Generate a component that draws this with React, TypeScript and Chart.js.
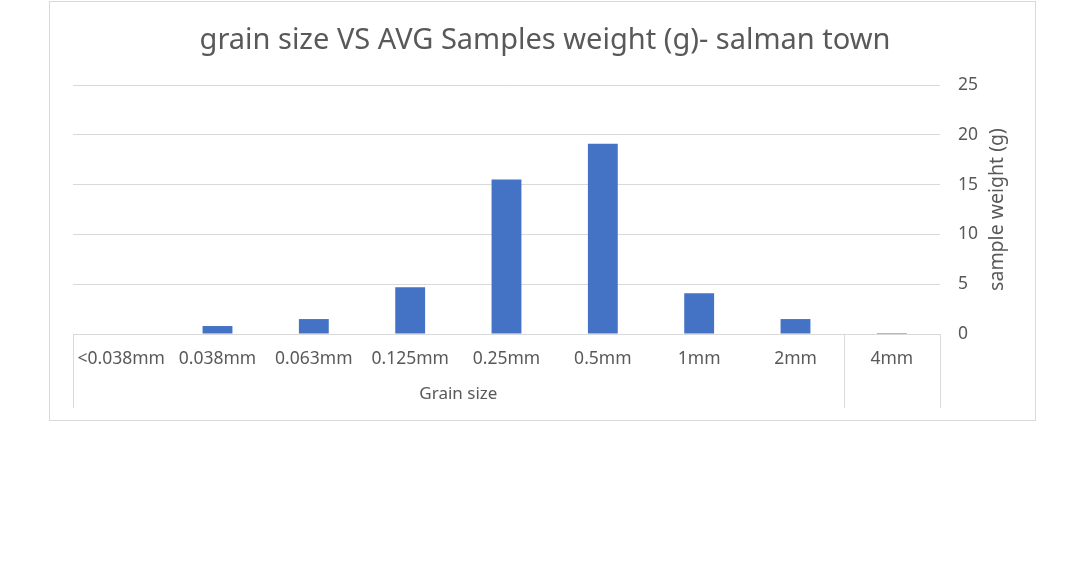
import React, { useEffect, useRef } from "react";
import { Chart, registerables } from "chart.js";

Chart.register(...registerables);

const categories = ["<0.038mm", "0.038mm", "0.063mm", "0.125mm", "0.25mm", "0.5mm", "1mm", "2mm", "4mm"];
const weights = [0, 0.8, 1.5, 4.7, 15.5, 19.1, 4.1, 1.5, 0.1];
const groupLabel = "Grain size";
const groupSpan = 8; // first 8 categories belong to the "Grain size" group
const yMin = 0;
const yMax = 25;
const yStep = 5;
const titleText = "grain size VS AVG Samples weight (g)- salman town";
const yTitle = "sample weight (g)";

const FONT = "'Noto Sans', sans-serif";
const TEXT = "#595959";
const LINE = "#d9d9d9";
const BAR = "#4472C4";

const decorPlugin = {
  id: "decor",
  beforeDraw(chart: any) {
    const { ctx, width, height } = chart;
    ctx.save();
    ctx.fillStyle = "#ffffff";
    ctx.fillRect(0, 0, width, height);
    ctx.strokeStyle = LINE;
    ctx.lineWidth = 1;
    ctx.strokeRect(49.5, 1.5, 986, 419);
    ctx.restore();
  },
  afterDraw(chart: any) {
    const { ctx, chartArea } = chart;
    const x = chart.scales.x;
    const half = (x.getPixelForValue(1) - x.getPixelForValue(0)) / 2;
    const left = chartArea.left;
    const right = chartArea.right;
    const boundary = x.getPixelForValue(groupSpan - 1) + half;
    const top = chartArea.bottom;
    const bottom = top + 74;
    ctx.save();
    ctx.strokeStyle = LINE;
    ctx.lineWidth = 1;
    for (const px of [left, boundary, right]) {
      const xx = Math.round(px) + 0.5;
      ctx.beginPath();
      ctx.moveTo(xx, top);
      ctx.lineTo(xx, bottom);
      ctx.stroke();
    }
    ctx.fillStyle = TEXT;
    ctx.font = `17px ${FONT}`;
    ctx.textAlign = "center";
    ctx.textBaseline = "middle";
    ctx.fillText(groupLabel, (left + boundary) / 2, top + 60);

    // right-side axis title, reading bottom to top
    ctx.translate(997, (chartArea.top + chartArea.bottom) / 2);
    ctx.rotate(-Math.PI / 2);
    ctx.font = `19.5px ${FONT}`;
    ctx.fillText(yTitle, 0, 0);
    ctx.restore();
  },
};

export default function App() {
  const ref = useRef<HTMLCanvasElement>(null);
  useEffect(() => {
    if (!ref.current) return;
    const chart = new Chart(ref.current, {
      type: "bar",
      data: {
        labels: categories,
        datasets: [
          {
            data: weights,
            backgroundColor: BAR,
            borderWidth: 0,
            barPercentage: 0.31,
            categoryPercentage: 1,
          },
        ],
      },
      options: {
        animation: false,
        responsive: false,
        devicePixelRatio: 1,
        layout: { padding: { left: 73, right: 63, top: 0, bottom: 172 } },
        plugins: {
          legend: { display: false },
          tooltip: { enabled: false },
          title: {
            display: true,
            text: titleText,
            color: TEXT,
            font: { family: FONT, size: 29, weight: "normal", lineHeight: 1.2 },
            padding: { top: 23, bottom: 27.2 },
          },
        },
        scales: {
          x: {
            grid: { display: false, drawTicks: false },
            border: { display: true, color: LINE },
            ticks: {
              color: TEXT,
              font: { family: FONT, size: 17.5 },
              padding: 15,
              maxRotation: 0,
              autoSkip: false,
            },
            afterFit: (s: any) => {
              s.height = 80;
            },
          },
          y: {
            position: "right",
            min: yMin,
            max: yMax,
            grid: { color: LINE, drawTicks: false },
            border: { display: false },
            ticks: {
              stepSize: yStep,
              color: TEXT,
              font: { family: FONT, size: 17.5 },
              padding: 18,
            },
            afterFit: (s: any) => {
              s.width = 77;
            },
          },
        },
      },
      plugins: [decorPlugin],
    });
    return () => chart.destroy();
  }, []);
  return (
    <div style={{ position: "absolute", left: 0, top: 0, width: 1080, height: 586, background: "#fff" }}>
      <canvas ref={ref} width={1080} height={586} style={{ width: 1080, height: 586 }} />
    </div>
  );
}
